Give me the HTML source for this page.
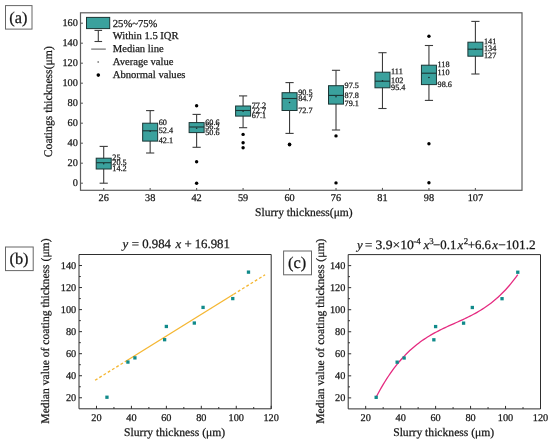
<!DOCTYPE html>
<html><head><meta charset="utf-8"><style>
html,body{margin:0;padding:0;background:#fff;}
body{width:550px;height:442px;overflow:hidden;}
svg{display:block;font-family:"Liberation Serif", serif;text-rendering:geometricPrecision;will-change:transform;filter:blur(0.3px);}
text{stroke:#1a1a1a;stroke-width:0.25px;}
</style></head><body>
<svg width="550" height="442" viewBox="0 0 550 442">
<rect width="550" height="442" fill="#fff"/>
<rect x="5.5" y="5.6" width="26.5" height="23.5" fill="none" stroke="#666" stroke-width="1"/>
<text x="9.3" y="23.2" font-size="16.4" fill="#161616">(a)</text>
<rect x="80.5" y="12.8" width="441.5" height="177.5" fill="none" stroke="#5e5e5e" stroke-width="1.2"/>
<line x1="80.5" y1="183.2" x2="82.9" y2="183.2" stroke="#5e5e5e" stroke-width="1.1"/>
<text x="77.9" y="186.10" font-size="10.3" text-anchor="end" fill="#161616">0</text>
<line x1="80.5" y1="163.2" x2="82.9" y2="163.2" stroke="#5e5e5e" stroke-width="1.1"/>
<text x="77.9" y="166.10" font-size="10.3" text-anchor="end" fill="#161616">20</text>
<line x1="80.5" y1="143.2" x2="82.9" y2="143.2" stroke="#5e5e5e" stroke-width="1.1"/>
<text x="77.9" y="146.10" font-size="10.3" text-anchor="end" fill="#161616">40</text>
<line x1="80.5" y1="123.19999999999999" x2="82.9" y2="123.19999999999999" stroke="#5e5e5e" stroke-width="1.1"/>
<text x="77.9" y="126.10" font-size="10.3" text-anchor="end" fill="#161616">60</text>
<line x1="80.5" y1="103.19999999999999" x2="82.9" y2="103.19999999999999" stroke="#5e5e5e" stroke-width="1.1"/>
<text x="77.9" y="106.10" font-size="10.3" text-anchor="end" fill="#161616">80</text>
<line x1="80.5" y1="83.19999999999999" x2="82.9" y2="83.19999999999999" stroke="#5e5e5e" stroke-width="1.1"/>
<text x="77.9" y="86.10" font-size="10.3" text-anchor="end" fill="#161616">100</text>
<line x1="80.5" y1="63.19999999999999" x2="82.9" y2="63.19999999999999" stroke="#5e5e5e" stroke-width="1.1"/>
<text x="77.9" y="66.10" font-size="10.3" text-anchor="end" fill="#161616">120</text>
<line x1="80.5" y1="43.19999999999999" x2="82.9" y2="43.19999999999999" stroke="#5e5e5e" stroke-width="1.1"/>
<text x="77.9" y="46.10" font-size="10.3" text-anchor="end" fill="#161616">140</text>
<line x1="80.5" y1="23.19999999999999" x2="82.9" y2="23.19999999999999" stroke="#5e5e5e" stroke-width="1.1"/>
<text x="77.9" y="26.10" font-size="10.3" text-anchor="end" fill="#161616">160</text>
<line x1="103.70" y1="190.3" x2="103.70" y2="187.9" stroke="#5e5e5e" stroke-width="1.1"/>
<text x="103.70" y="201.2" font-size="10.3" text-anchor="middle" fill="#161616">26</text>
<line x1="150.16" y1="190.3" x2="150.16" y2="187.9" stroke="#5e5e5e" stroke-width="1.1"/>
<text x="150.16" y="201.2" font-size="10.3" text-anchor="middle" fill="#161616">38</text>
<line x1="196.62" y1="190.3" x2="196.62" y2="187.9" stroke="#5e5e5e" stroke-width="1.1"/>
<text x="196.62" y="201.2" font-size="10.3" text-anchor="middle" fill="#161616">42</text>
<line x1="243.09" y1="190.3" x2="243.09" y2="187.9" stroke="#5e5e5e" stroke-width="1.1"/>
<text x="243.09" y="201.2" font-size="10.3" text-anchor="middle" fill="#161616">59</text>
<line x1="289.55" y1="190.3" x2="289.55" y2="187.9" stroke="#5e5e5e" stroke-width="1.1"/>
<text x="289.55" y="201.2" font-size="10.3" text-anchor="middle" fill="#161616">60</text>
<line x1="336.01" y1="190.3" x2="336.01" y2="187.9" stroke="#5e5e5e" stroke-width="1.1"/>
<text x="336.01" y="201.2" font-size="10.3" text-anchor="middle" fill="#161616">76</text>
<line x1="382.47" y1="190.3" x2="382.47" y2="187.9" stroke="#5e5e5e" stroke-width="1.1"/>
<text x="382.47" y="201.2" font-size="10.3" text-anchor="middle" fill="#161616">81</text>
<line x1="428.94" y1="190.3" x2="428.94" y2="187.9" stroke="#5e5e5e" stroke-width="1.1"/>
<text x="428.94" y="201.2" font-size="10.3" text-anchor="middle" fill="#161616">98</text>
<line x1="475.40" y1="190.3" x2="475.40" y2="187.9" stroke="#5e5e5e" stroke-width="1.1"/>
<text x="475.40" y="201.2" font-size="10.3" text-anchor="middle" fill="#161616">107</text>
<line x1="103.70" y1="146.40" x2="103.70" y2="183.20" stroke="#3c3c3c" stroke-width="1.1"/>
<line x1="99.60" y1="146.40" x2="107.80" y2="146.40" stroke="#3c3c3c" stroke-width="1.1"/>
<line x1="99.60" y1="183.20" x2="107.80" y2="183.20" stroke="#3c3c3c" stroke-width="1.1"/>
<rect x="96.20" y="158.20" width="15" height="10.80" fill="#3aa19d" stroke="#1b3635" stroke-width="1"/>
<line x1="96.20" y1="162.70" x2="111.20" y2="162.70" stroke="#1b3635" stroke-width="1.1"/>
<circle cx="103.70" cy="163.70" r="0.8" fill="#1a2a2a"/>
<text x="112.30" y="160.40" font-size="8.2" fill="#222">25</text>
<text x="112.30" y="164.90" font-size="8.2" fill="#222">20.5</text>
<text x="112.30" y="171.20" font-size="8.2" fill="#222">14.2</text>
<line x1="150.16" y1="110.60" x2="150.16" y2="153.00" stroke="#3c3c3c" stroke-width="1.1"/>
<line x1="146.06" y1="110.60" x2="154.26" y2="110.60" stroke="#3c3c3c" stroke-width="1.1"/>
<line x1="146.06" y1="153.00" x2="154.26" y2="153.00" stroke="#3c3c3c" stroke-width="1.1"/>
<rect x="142.66" y="123.20" width="15" height="17.90" fill="#3aa19d" stroke="#1b3635" stroke-width="1"/>
<line x1="142.66" y1="130.80" x2="157.66" y2="130.80" stroke="#1b3635" stroke-width="1.1"/>
<circle cx="150.16" cy="131.20" r="0.8" fill="#1a2a2a"/>
<text x="158.76" y="125.40" font-size="8.2" fill="#222">60</text>
<text x="158.76" y="133.00" font-size="8.2" fill="#222">52.4</text>
<text x="158.76" y="143.30" font-size="8.2" fill="#222">42.1</text>
<line x1="196.62" y1="114.40" x2="196.62" y2="147.30" stroke="#3c3c3c" stroke-width="1.1"/>
<line x1="192.53" y1="114.40" x2="200.72" y2="114.40" stroke="#3c3c3c" stroke-width="1.1"/>
<line x1="192.53" y1="147.30" x2="200.72" y2="147.30" stroke="#3c3c3c" stroke-width="1.1"/>
<rect x="189.12" y="122.60" width="15" height="10.00" fill="#3aa19d" stroke="#1b3635" stroke-width="1"/>
<line x1="189.12" y1="127.00" x2="204.12" y2="127.00" stroke="#1b3635" stroke-width="1.1"/>
<circle cx="196.62" cy="128.20" r="0.8" fill="#1a2a2a"/>
<circle cx="196.62" cy="105.80" r="1.7" fill="#000"/>
<circle cx="196.62" cy="161.70" r="1.7" fill="#000"/>
<circle cx="196.62" cy="183.20" r="1.7" fill="#000"/>
<text x="205.22" y="124.80" font-size="8.2" fill="#222">60.6</text>
<text x="205.22" y="129.20" font-size="8.2" fill="#222">56.2</text>
<text x="205.22" y="134.80" font-size="8.2" fill="#222">50.6</text>
<line x1="243.09" y1="95.90" x2="243.09" y2="127.70" stroke="#3c3c3c" stroke-width="1.1"/>
<line x1="238.99" y1="95.90" x2="247.19" y2="95.90" stroke="#3c3c3c" stroke-width="1.1"/>
<line x1="238.99" y1="127.70" x2="247.19" y2="127.70" stroke="#3c3c3c" stroke-width="1.1"/>
<rect x="235.59" y="106.00" width="15" height="10.10" fill="#3aa19d" stroke="#1b3635" stroke-width="1"/>
<line x1="235.59" y1="110.50" x2="250.59" y2="110.50" stroke="#1b3635" stroke-width="1.1"/>
<circle cx="243.09" cy="111.20" r="0.8" fill="#1a2a2a"/>
<circle cx="243.09" cy="134.40" r="1.7" fill="#000"/>
<circle cx="243.09" cy="142.70" r="1.7" fill="#000"/>
<circle cx="243.09" cy="147.70" r="1.7" fill="#000"/>
<text x="251.69" y="108.20" font-size="8.2" fill="#222">77.2</text>
<text x="251.69" y="112.70" font-size="8.2" fill="#222">72.7</text>
<text x="251.69" y="118.30" font-size="8.2" fill="#222">67.1</text>
<line x1="289.55" y1="82.60" x2="289.55" y2="133.40" stroke="#3c3c3c" stroke-width="1.1"/>
<line x1="285.45" y1="82.60" x2="293.65" y2="82.60" stroke="#3c3c3c" stroke-width="1.1"/>
<line x1="285.45" y1="133.40" x2="293.65" y2="133.40" stroke="#3c3c3c" stroke-width="1.1"/>
<rect x="282.05" y="92.70" width="15" height="17.80" fill="#3aa19d" stroke="#1b3635" stroke-width="1"/>
<line x1="282.05" y1="98.50" x2="297.05" y2="98.50" stroke="#1b3635" stroke-width="1.1"/>
<circle cx="289.55" cy="102.50" r="0.8" fill="#1a2a2a"/>
<circle cx="289.55" cy="144.80" r="1.7" fill="#000"/>
<circle cx="289.55" cy="144.30" r="1.7" fill="#000"/>
<text x="298.15" y="94.90" font-size="8.2" fill="#222">90.5</text>
<text x="298.15" y="100.70" font-size="8.2" fill="#222">84.7</text>
<text x="298.15" y="112.70" font-size="8.2" fill="#222">72.7</text>
<line x1="336.01" y1="70.30" x2="336.01" y2="130.00" stroke="#3c3c3c" stroke-width="1.1"/>
<line x1="331.91" y1="70.30" x2="340.11" y2="70.30" stroke="#3c3c3c" stroke-width="1.1"/>
<line x1="331.91" y1="130.00" x2="340.11" y2="130.00" stroke="#3c3c3c" stroke-width="1.1"/>
<rect x="328.51" y="85.70" width="15" height="18.40" fill="#3aa19d" stroke="#1b3635" stroke-width="1"/>
<line x1="328.51" y1="95.40" x2="343.51" y2="95.40" stroke="#1b3635" stroke-width="1.1"/>
<circle cx="336.01" cy="96.80" r="0.8" fill="#1a2a2a"/>
<circle cx="336.01" cy="135.90" r="1.7" fill="#000"/>
<circle cx="336.01" cy="182.90" r="1.7" fill="#000"/>
<text x="344.61" y="87.90" font-size="8.2" fill="#222">97.5</text>
<text x="344.61" y="97.60" font-size="8.2" fill="#222">87.8</text>
<text x="344.61" y="106.30" font-size="8.2" fill="#222">79.1</text>
<line x1="382.47" y1="52.70" x2="382.47" y2="108.50" stroke="#3c3c3c" stroke-width="1.1"/>
<line x1="378.37" y1="52.70" x2="386.57" y2="52.70" stroke="#3c3c3c" stroke-width="1.1"/>
<line x1="378.37" y1="108.50" x2="386.57" y2="108.50" stroke="#3c3c3c" stroke-width="1.1"/>
<rect x="374.97" y="72.20" width="15" height="15.60" fill="#3aa19d" stroke="#1b3635" stroke-width="1"/>
<line x1="374.97" y1="81.20" x2="389.97" y2="81.20" stroke="#1b3635" stroke-width="1.1"/>
<circle cx="382.47" cy="80.80" r="0.8" fill="#1a2a2a"/>
<text x="391.07" y="74.40" font-size="8.2" fill="#222">111</text>
<text x="391.07" y="83.40" font-size="8.2" fill="#222">102</text>
<text x="391.07" y="90.00" font-size="8.2" fill="#222">95.4</text>
<line x1="428.94" y1="45.50" x2="428.94" y2="100.40" stroke="#3c3c3c" stroke-width="1.1"/>
<line x1="424.84" y1="45.50" x2="433.04" y2="45.50" stroke="#3c3c3c" stroke-width="1.1"/>
<line x1="424.84" y1="100.40" x2="433.04" y2="100.40" stroke="#3c3c3c" stroke-width="1.1"/>
<rect x="421.44" y="65.20" width="15" height="19.40" fill="#3aa19d" stroke="#1b3635" stroke-width="1"/>
<line x1="421.44" y1="73.20" x2="436.44" y2="73.20" stroke="#1b3635" stroke-width="1.1"/>
<circle cx="428.94" cy="77.50" r="0.8" fill="#1a2a2a"/>
<circle cx="428.94" cy="36.20" r="1.7" fill="#000"/>
<circle cx="428.94" cy="143.70" r="1.7" fill="#000"/>
<circle cx="428.94" cy="182.80" r="1.7" fill="#000"/>
<text x="437.54" y="67.40" font-size="8.2" fill="#222">118</text>
<text x="437.54" y="75.40" font-size="8.2" fill="#222">110</text>
<text x="437.54" y="86.80" font-size="8.2" fill="#222">98.6</text>
<line x1="475.40" y1="21.40" x2="475.40" y2="74.00" stroke="#3c3c3c" stroke-width="1.1"/>
<line x1="471.30" y1="21.40" x2="479.50" y2="21.40" stroke="#3c3c3c" stroke-width="1.1"/>
<line x1="471.30" y1="74.00" x2="479.50" y2="74.00" stroke="#3c3c3c" stroke-width="1.1"/>
<rect x="467.90" y="42.20" width="15" height="14.00" fill="#3aa19d" stroke="#1b3635" stroke-width="1"/>
<line x1="467.90" y1="49.20" x2="482.90" y2="49.20" stroke="#1b3635" stroke-width="1.1"/>
<circle cx="475.40" cy="49.20" r="0.8" fill="#1a2a2a"/>
<text x="484.00" y="44.40" font-size="8.2" fill="#222">141</text>
<text x="484.00" y="51.40" font-size="8.2" fill="#222">134</text>
<text x="484.00" y="58.40" font-size="8.2" fill="#222">127</text>
<rect x="86.5" y="17.4" width="23.2" height="11.2" fill="#3aa19d" stroke="#1b3635" stroke-width="1"/>
<line x1="98.3" y1="30.4" x2="98.3" y2="41.5" stroke="#3c3c3c" stroke-width="1.1"/>
<line x1="94.5" y1="30.4" x2="102.1" y2="30.4" stroke="#3c3c3c" stroke-width="1.1"/>
<line x1="94.5" y1="41.5" x2="102.1" y2="41.5" stroke="#3c3c3c" stroke-width="1.1"/>
<line x1="91.2" y1="49.1" x2="105.8" y2="49.1" stroke="#6e6e6e" stroke-width="1.2"/>
<circle cx="98.2" cy="62" r="0.9" fill="#888"/>
<circle cx="98.3" cy="75.1" r="1.8" fill="#000"/>
<text x="112.8" y="26.5" font-size="10.6" fill="#161616">25%~75%</text>
<text x="112.8" y="39.4" font-size="10.6" fill="#161616">Within 1.5 IQR</text>
<text x="112.8" y="52.4" font-size="10.6" fill="#161616">Median line</text>
<text x="112.8" y="65.4" font-size="10.6" fill="#161616">Average value</text>
<text x="112.8" y="78.4" font-size="10.6" fill="#161616">Abnormal values</text>
<text transform="translate(52.4,157.2) rotate(-90)" font-size="11.68" fill="#161616">Coatings thickness(μm)</text>
<text x="255.1" y="216.0" font-size="11.56" fill="#161616">Slurry thickness(μm)</text>
<rect x="5.5" y="247.0" width="27.700000000000003" height="23.600000000000023" fill="none" stroke="#666" stroke-width="1"/>
<text x="9.45" y="264.4" font-size="16.4" fill="#161616">(b)</text>
<path d="M79.0,408.8 V254.5 H271.2 V408.8 Z" fill="none" stroke="#2e2e2e" stroke-width="1"/>
<line x1="79.0" y1="397.78" x2="82.0" y2="397.78" stroke="#2e2e2e" stroke-width="1"/>
<text x="76.2" y="400.78" font-size="10.3" text-anchor="end" fill="#161616">20</text>
<line x1="79.0" y1="386.76" x2="80.8" y2="386.76" stroke="#2e2e2e" stroke-width="1"/>
<line x1="79.0" y1="375.74" x2="82.0" y2="375.74" stroke="#2e2e2e" stroke-width="1"/>
<text x="76.2" y="378.74" font-size="10.3" text-anchor="end" fill="#161616">40</text>
<line x1="79.0" y1="364.71" x2="80.8" y2="364.71" stroke="#2e2e2e" stroke-width="1"/>
<line x1="79.0" y1="353.69" x2="82.0" y2="353.69" stroke="#2e2e2e" stroke-width="1"/>
<text x="76.2" y="356.69" font-size="10.3" text-anchor="end" fill="#161616">60</text>
<line x1="79.0" y1="342.67" x2="80.8" y2="342.67" stroke="#2e2e2e" stroke-width="1"/>
<line x1="79.0" y1="331.65" x2="82.0" y2="331.65" stroke="#2e2e2e" stroke-width="1"/>
<text x="76.2" y="334.65" font-size="10.3" text-anchor="end" fill="#161616">80</text>
<line x1="79.0" y1="320.63" x2="80.8" y2="320.63" stroke="#2e2e2e" stroke-width="1"/>
<line x1="79.0" y1="309.61" x2="82.0" y2="309.61" stroke="#2e2e2e" stroke-width="1"/>
<text x="76.2" y="312.61" font-size="10.3" text-anchor="end" fill="#161616">100</text>
<line x1="79.0" y1="298.59" x2="80.8" y2="298.59" stroke="#2e2e2e" stroke-width="1"/>
<line x1="79.0" y1="287.56" x2="82.0" y2="287.56" stroke="#2e2e2e" stroke-width="1"/>
<text x="76.2" y="290.56" font-size="10.3" text-anchor="end" fill="#161616">120</text>
<line x1="79.0" y1="276.54" x2="80.8" y2="276.54" stroke="#2e2e2e" stroke-width="1"/>
<line x1="79.0" y1="265.52" x2="82.0" y2="265.52" stroke="#2e2e2e" stroke-width="1"/>
<text x="76.2" y="268.52" font-size="10.3" text-anchor="end" fill="#161616">140</text>
<line x1="96.47" y1="408.8" x2="96.47" y2="405.8" stroke="#2e2e2e" stroke-width="1"/>
<text x="96.47" y="420.90" font-size="10.3" text-anchor="middle" fill="#161616">20</text>
<line x1="113.95" y1="408.8" x2="113.95" y2="407.0" stroke="#2e2e2e" stroke-width="1"/>
<line x1="131.42" y1="408.8" x2="131.42" y2="405.8" stroke="#2e2e2e" stroke-width="1"/>
<text x="131.42" y="420.90" font-size="10.3" text-anchor="middle" fill="#161616">40</text>
<line x1="148.89" y1="408.8" x2="148.89" y2="407.0" stroke="#2e2e2e" stroke-width="1"/>
<line x1="166.36" y1="408.8" x2="166.36" y2="405.8" stroke="#2e2e2e" stroke-width="1"/>
<text x="166.36" y="420.90" font-size="10.3" text-anchor="middle" fill="#161616">60</text>
<line x1="183.84" y1="408.8" x2="183.84" y2="407.0" stroke="#2e2e2e" stroke-width="1"/>
<line x1="201.31" y1="408.8" x2="201.31" y2="405.8" stroke="#2e2e2e" stroke-width="1"/>
<text x="201.31" y="420.90" font-size="10.3" text-anchor="middle" fill="#161616">80</text>
<line x1="218.78" y1="408.8" x2="218.78" y2="407.0" stroke="#2e2e2e" stroke-width="1"/>
<line x1="236.25" y1="408.8" x2="236.25" y2="405.8" stroke="#2e2e2e" stroke-width="1"/>
<text x="236.25" y="420.90" font-size="10.3" text-anchor="middle" fill="#161616">100</text>
<line x1="253.73" y1="408.8" x2="253.73" y2="407.0" stroke="#2e2e2e" stroke-width="1"/>
<line x1="271.20" y1="408.8" x2="271.20" y2="405.8" stroke="#2e2e2e" stroke-width="1"/>
<text x="271.20" y="420.90" font-size="10.3" text-anchor="middle" fill="#161616">120</text>
<line x1="95.07" y1="380.28" x2="126.18" y2="360.98" stroke="#f5b733" stroke-width="1.35" stroke-dasharray="2.8 2.2"/>
<line x1="126.18" y1="360.98" x2="233.63" y2="294.28" stroke="#f5b733" stroke-width="1.35"/>
<line x1="233.63" y1="294.28" x2="265.08" y2="274.76" stroke="#f5b733" stroke-width="1.35" stroke-dasharray="2.8 2.2"/>
<rect x="105.31" y="395.58" width="3.3" height="3.3" fill="#108a8a"/>
<rect x="126.27" y="360.42" width="3.3" height="3.3" fill="#108a8a"/>
<rect x="133.26" y="356.23" width="3.3" height="3.3" fill="#108a8a"/>
<rect x="162.97" y="338.05" width="3.3" height="3.3" fill="#108a8a"/>
<rect x="164.71" y="324.82" width="3.3" height="3.3" fill="#108a8a"/>
<rect x="192.67" y="321.40" width="3.3" height="3.3" fill="#108a8a"/>
<rect x="201.41" y="305.75" width="3.3" height="3.3" fill="#108a8a"/>
<rect x="231.11" y="296.94" width="3.3" height="3.3" fill="#108a8a"/>
<rect x="246.84" y="270.48" width="3.3" height="3.3" fill="#108a8a"/>
<rect x="283.6" y="251.0" width="27.899999999999977" height="23.80000000000001" fill="none" stroke="#666" stroke-width="1"/>
<text x="288.0" y="268.4" font-size="16.4" fill="#161616">(c)</text>
<path d="M348.2,408.9 V254.6 H540.5 V408.9 Z" fill="none" stroke="#2e2e2e" stroke-width="1"/>
<line x1="348.2" y1="397.88" x2="351.2" y2="397.88" stroke="#2e2e2e" stroke-width="1"/>
<text x="345.4" y="400.88" font-size="10.3" text-anchor="end" fill="#161616">20</text>
<line x1="348.2" y1="386.86" x2="350.0" y2="386.86" stroke="#2e2e2e" stroke-width="1"/>
<line x1="348.2" y1="375.84" x2="351.2" y2="375.84" stroke="#2e2e2e" stroke-width="1"/>
<text x="345.4" y="378.84" font-size="10.3" text-anchor="end" fill="#161616">40</text>
<line x1="348.2" y1="364.81" x2="350.0" y2="364.81" stroke="#2e2e2e" stroke-width="1"/>
<line x1="348.2" y1="353.79" x2="351.2" y2="353.79" stroke="#2e2e2e" stroke-width="1"/>
<text x="345.4" y="356.79" font-size="10.3" text-anchor="end" fill="#161616">60</text>
<line x1="348.2" y1="342.77" x2="350.0" y2="342.77" stroke="#2e2e2e" stroke-width="1"/>
<line x1="348.2" y1="331.75" x2="351.2" y2="331.75" stroke="#2e2e2e" stroke-width="1"/>
<text x="345.4" y="334.75" font-size="10.3" text-anchor="end" fill="#161616">80</text>
<line x1="348.2" y1="320.73" x2="350.0" y2="320.73" stroke="#2e2e2e" stroke-width="1"/>
<line x1="348.2" y1="309.71" x2="351.2" y2="309.71" stroke="#2e2e2e" stroke-width="1"/>
<text x="345.4" y="312.71" font-size="10.3" text-anchor="end" fill="#161616">100</text>
<line x1="348.2" y1="298.69" x2="350.0" y2="298.69" stroke="#2e2e2e" stroke-width="1"/>
<line x1="348.2" y1="287.66" x2="351.2" y2="287.66" stroke="#2e2e2e" stroke-width="1"/>
<text x="345.4" y="290.66" font-size="10.3" text-anchor="end" fill="#161616">120</text>
<line x1="348.2" y1="276.64" x2="350.0" y2="276.64" stroke="#2e2e2e" stroke-width="1"/>
<line x1="348.2" y1="265.62" x2="351.2" y2="265.62" stroke="#2e2e2e" stroke-width="1"/>
<text x="345.4" y="268.62" font-size="10.3" text-anchor="end" fill="#161616">140</text>
<line x1="365.68" y1="408.9" x2="365.68" y2="405.9" stroke="#2e2e2e" stroke-width="1"/>
<text x="365.68" y="421.00" font-size="10.3" text-anchor="middle" fill="#161616">20</text>
<line x1="383.16" y1="408.9" x2="383.16" y2="407.09999999999997" stroke="#2e2e2e" stroke-width="1"/>
<line x1="400.65" y1="408.9" x2="400.65" y2="405.9" stroke="#2e2e2e" stroke-width="1"/>
<text x="400.65" y="421.00" font-size="10.3" text-anchor="middle" fill="#161616">40</text>
<line x1="418.13" y1="408.9" x2="418.13" y2="407.09999999999997" stroke="#2e2e2e" stroke-width="1"/>
<line x1="435.61" y1="408.9" x2="435.61" y2="405.9" stroke="#2e2e2e" stroke-width="1"/>
<text x="435.61" y="421.00" font-size="10.3" text-anchor="middle" fill="#161616">60</text>
<line x1="453.09" y1="408.9" x2="453.09" y2="407.09999999999997" stroke="#2e2e2e" stroke-width="1"/>
<line x1="470.57" y1="408.9" x2="470.57" y2="405.9" stroke="#2e2e2e" stroke-width="1"/>
<text x="470.57" y="421.00" font-size="10.3" text-anchor="middle" fill="#161616">80</text>
<line x1="488.05" y1="408.9" x2="488.05" y2="407.09999999999997" stroke="#2e2e2e" stroke-width="1"/>
<line x1="505.54" y1="408.9" x2="505.54" y2="405.9" stroke="#2e2e2e" stroke-width="1"/>
<text x="505.54" y="421.00" font-size="10.3" text-anchor="middle" fill="#161616">100</text>
<line x1="523.02" y1="408.9" x2="523.02" y2="407.09999999999997" stroke="#2e2e2e" stroke-width="1"/>
<line x1="540.50" y1="408.9" x2="540.50" y2="405.9" stroke="#2e2e2e" stroke-width="1"/>
<text x="540.50" y="421.00" font-size="10.3" text-anchor="middle" fill="#161616">120</text>
<polyline points="376.17,397.15 377.94,393.79 379.71,390.55 381.48,387.42 383.25,384.41 385.02,381.50 386.79,378.69 388.56,375.99 390.33,373.39 392.10,370.89 393.87,368.48 395.64,366.16 397.41,363.93 399.18,361.78 400.95,359.73 402.72,357.75 404.49,355.85 406.26,354.02 408.03,352.27 409.80,350.59 411.57,348.98 413.34,347.43 415.11,345.94 416.88,344.51 418.65,343.14 420.42,341.83 422.19,340.56 423.96,339.35 425.73,338.18 427.50,337.05 429.27,335.97 431.04,334.92 432.81,333.91 434.58,332.93 436.35,331.98 438.12,331.06 439.89,330.16 441.66,329.29 443.43,328.44 445.20,327.60 446.97,326.77 448.74,325.96 450.51,325.16 452.28,324.36 454.05,323.56 455.82,322.77 457.59,321.97 459.36,321.17 461.13,320.36 462.90,319.55 464.67,318.72 466.44,317.87 468.21,317.00 469.98,316.12 471.75,315.21 473.52,314.28 475.29,313.31 477.06,312.32 478.83,311.29 480.60,310.22 482.37,309.12 484.14,307.97 485.91,306.77 487.68,305.53 489.45,304.24 491.22,302.90 492.99,301.50 494.76,300.04 496.53,298.53 498.30,296.94 500.07,295.30 501.84,293.58 503.61,291.79 505.38,289.93 507.15,287.99 508.92,285.97 510.69,283.86 512.46,281.68 514.23,279.40 516.00,277.04 517.77,274.58" fill="none" stroke="#e52b80" stroke-width="1.3"/>
<rect x="374.52" y="395.68" width="3.3" height="3.3" fill="#108a8a"/>
<rect x="395.50" y="360.52" width="3.3" height="3.3" fill="#108a8a"/>
<rect x="402.49" y="356.33" width="3.3" height="3.3" fill="#108a8a"/>
<rect x="432.21" y="338.15" width="3.3" height="3.3" fill="#108a8a"/>
<rect x="433.96" y="324.92" width="3.3" height="3.3" fill="#108a8a"/>
<rect x="461.93" y="321.50" width="3.3" height="3.3" fill="#108a8a"/>
<rect x="470.67" y="305.85" width="3.3" height="3.3" fill="#108a8a"/>
<rect x="500.39" y="297.04" width="3.3" height="3.3" fill="#108a8a"/>
<rect x="516.12" y="270.58" width="3.3" height="3.3" fill="#108a8a"/>
<g font-size="12.8" fill="#161616"><text x="122.6" y="248.4" font-style="italic">y</text><text x="131.7" y="248.4">=</text><text x="142.2" y="248.4">0.984</text><text x="175.6" y="248.4" font-style="italic">x</text><text x="184.6" y="248.4">+</text><text x="194.7" y="248.4">16.981</text><text x="357.1" y="249.3" font-style="italic">y</text><text x="365.0" y="249.3">=</text><text x="375.4" y="249.3" textLength="38.45" lengthAdjust="spacingAndGlyphs">3.9×10</text><text x="413.35" y="244.2" font-size="8.8">-4</text><text x="423.6" y="249.3" font-style="italic">x</text><text x="429.25" y="244.2" font-size="8.8">3</text><text x="433.1" y="249.3">−0.1</text><text x="457.4" y="249.3" font-style="italic">x</text><text x="463.7" y="244.2" font-size="8.8">2</text><text x="467.8" y="249.3">+6.6</text><text x="492.2" y="249.3" font-style="italic">x</text><text x="498.2" y="249.3" textLength="37.48" lengthAdjust="spacingAndGlyphs">−101.2</text></g>
<text transform="translate(49.0,423.65) rotate(-90)" font-size="11.62" fill="#161616">Median value of coating thickness (μm)</text>
<text transform="translate(323.7,423.85) rotate(-90)" font-size="11.62" fill="#161616">Median value of coating thickness (μm)</text>
<text x="124.1" y="436.4" font-size="11.62" fill="#161616">Slurry thickness (μm)</text>
<text x="393.2" y="436.4" font-size="11.62" fill="#161616">Slurry thickness (μm)</text>
</svg></body></html>
